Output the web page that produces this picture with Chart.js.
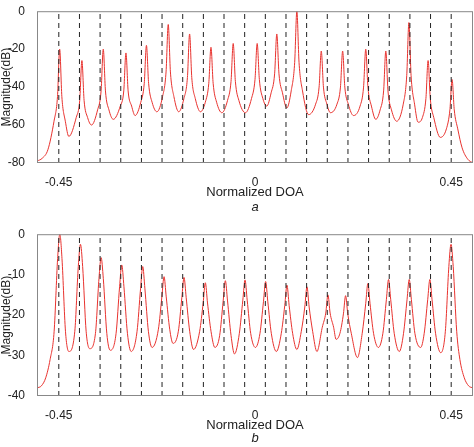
<!DOCTYPE html>
<html>
<head>
<meta charset="utf-8">
<script src="https://cdn.jsdelivr.net/npm/chart.js@4.4.1/dist/chart.umd.min.js"></script>
<style>
  body { margin: 0; background: #fff; width: 474px; height: 447px; position: relative; overflow: hidden; font-family: 'Liberation Sans', Arial, sans-serif; }
  .box { position: absolute; left: 0; width: 474px; }
  .lbl { position: absolute; font-style: italic; font-size: 13px; color: #222; width: 20px; text-align: center; left: 245px; }
</style>
</head>
<body>
<div class="box" style="top:0;height:200px"><canvas id="chartA"></canvas></div>
<div class="lbl" style="top:199px">a</div>
<div class="box" style="top:223px;height:210px"><canvas id="chartB"></canvas></div>
<div class="lbl" style="top:430px">b</div>
<script>
// dashed reference positions (true DOAs)
const trueDoa = [-0.45, -0.4026, -0.3553, -0.3079, -0.2605, -0.2132, -0.1658, -0.1184, -0.0711, -0.0237,
                 0.0237, 0.0711, 0.1184, 0.1658, 0.2132, 0.2605, 0.3079, 0.3553, 0.4026, 0.45];
const xTicks = [-0.45, 0, 0.45];

// --- panel a ---
const peakXA = [-0.448, -0.397, -0.348, -0.296, -0.249, -0.199, -0.150, -0.101, -0.050, 0.005,
                0.050, 0.096, 0.152, 0.201, 0.254, 0.300, 0.353, 0.397, 0.452];
const peakYA = [-20, -26, -20, -22, -18, -7, -12, -19, -17, -17, -12, 0, -21, -21, -20, -21, -6, -26, -36];
const nearA  = [-45, -47, -42, -42, -38, -32, -35, -38, -37, -36, -33, -27, -40, -40, -40, -42, -34, -46, -52];
const farA   = [-58, -56, -52, -50, -48, -45, -46, -48, -47, -46, -43, -42, -49, -49, -50, -52, -49, -56, -62];
const troughXA = [-0.427, -0.375, -0.325, -0.275, -0.225, -0.175, -0.125, -0.076, -0.022, 0.027,
                  0.073, 0.123, 0.173, 0.226, 0.277, 0.325, 0.374, 0.425];
const troughYA = [-66, -60, -57, -55, -53, -53, -53, -53.5, -53.5, -50, -51, -54.5, -53.5, -55, -57, -58, -58.5, -66.5];
const edgeLA = [[-0.5, -79], [-0.488, -77.5], [-0.475, -73]];
const edgeRA = [[0.475, -72], [0.488, -78], [0.5, -80]];

// --- panel b ---
const peakXB = [-0.4477, -0.4003, -0.3529, -0.3056, -0.2575, -0.2086, -0.1628, -0.1139, -0.0680, -0.0229,
                0.0244, 0.0733, 0.1192, 0.1673, 0.2078, 0.2589, 0.3063, 0.3537, 0.4011, 0.4496];
const peakYB = [0, -2.5, -5.8, -7.6, -8, -10.5, -10.7, -12, -11.5, -11.3, -11.7, -12.6, -13, -15, -15.2, -12.2, -11.2, -11.2, -11.2, -2.5];
const nearB  = [-6, -8, -11, -13, -13.5, -15.5, -15.7, -17, -16.5, -16.3, -16.7, -17.6, -18, -19.5, -19.7, -17.2, -16.2, -16.2, -16.2, -8];
const farB   = [-24, -24, -24.5, -24.5, -24, -23.5, -24, -24, -25, -24.5, -24.5, -24.5, -24, -23, -24.5, -24.5, -24.5, -24.5, -24.5, -24];
const troughXB = [-0.427, -0.379, -0.332, -0.284, -0.236, -0.188, -0.141, -0.092, -0.047, 0.001,
                  0.049, 0.096, 0.142, 0.186, 0.235, 0.283, 0.331, 0.380, 0.426];
const troughYB = [-29, -28.3, -28.7, -29, -28, -27, -28.5, -28, -29.6, -28, -29, -28.5, -29, -26, -30.5, -28, -29, -28, -29.3];
const edgeLB = [[-0.5, -38], [-0.49, -37.5], [-0.48, -35.5], [-0.47, -31]];
const edgeRB = [[0.47, -31], [0.48, -35.5], [0.49, -37.5], [0.5, -38]];

function buildCurve(px, py, near, far, tx, ty, edgeL, edgeR) {
  const pts = edgeL.map(p => ({ x: p[0], y: p[1] }));
  for (let i = 0; i < px.length; i++) {
    pts.push({ x: px[i] - 0.013, y: far[i] }, { x: px[i] - 0.005, y: near[i] }, { x: px[i], y: py[i] },
             { x: px[i] + 0.005, y: near[i] }, { x: px[i] + 0.013, y: far[i] });
    if (i < tx.length) pts.push({ x: tx[i], y: ty[i] });
  }
  edgeR.forEach(p => pts.push({ x: p[0], y: p[1] }));
  return pts;
}

const FONT = "'Liberation Sans', Arial, sans-serif";

// plot box + rotated y title
const boxPlugin = {
  id: 'box',
  afterDraw(chart) {
    const a = chart.chartArea, ctx = chart.ctx;
    ctx.save();
    ctx.strokeStyle = '#888';
    ctx.lineWidth = 1;
    ctx.strokeRect(a.left + 0.5, a.top + 0.5, a.right - a.left - 1, a.bottom - a.top - 1);
    ctx.translate(7, (a.top + a.bottom) / 2);
    ctx.rotate(-Math.PI / 2);
    ctx.fillStyle = '#222';
    ctx.font = '12px ' + FONT;
    ctx.textAlign = 'center';
    ctx.textBaseline = 'middle';
    ctx.fillText('Magnitude(dB)', 0, 0);
    ctx.restore();
  }
};

function makeChart(id, curve, ymin, ymax, ystep) {
  const dashed = trueDoa.map(x => ({
    data: [{ x: x, y: ymin }, { x: x, y: ymax }],
    borderColor: '#222', borderWidth: 1, borderDash: [5, 4], pointRadius: 0, order: 0
  }));
  const font = { family: FONT, size: 12 };
  return new Chart(document.getElementById(id), {
    type: 'line',
    data: {
      datasets: [{
        data: curve, borderColor: '#e8332f', borderWidth: 1, pointRadius: 0,
        cubicInterpolationMode: 'monotone', order: 1
      }].concat(dashed)
    },
    options: {
      responsive: true, maintainAspectRatio: false, animation: false, devicePixelRatio: 1,
      layout: { padding: { top: 4, right: 1, left: 0, bottom: 0 } },
      plugins: { legend: { display: false }, tooltip: { enabled: false } },
      scales: {
        x: {
          type: 'linear', min: -0.5, max: 0.5,
          afterBuildTicks: ax => { ax.ticks = xTicks.map(v => ({ value: v })); },
          afterFit: ax => { ax.height = 37; },
          grid: { display: false }, border: { display: false },
          ticks: { font: font, color: '#222', padding: 4, maxRotation: 0, callback: v => String(v) },
          title: { display: true, text: 'Normalized DOA', font: { family: FONT, size: 13 }, color: '#222', padding: 0 }
        },
        y: {
          min: ymin, max: ymax,
          ticks: { stepSize: ystep, font: font, color: '#222', padding: 4, callback: v => String(v) },
          afterFit: ax => { ax.width = 37; },
          grid: { display: false }, border: { display: false }
        }
      }
    },
    plugins: [boxPlugin]
  });
}

makeChart('chartA', buildCurve(peakXA, peakYA, nearA, farA, troughXA, troughYA, edgeLA, edgeRA), -80, 0, 20);
makeChart('chartB', buildCurve(peakXB, peakYB, nearB, farB, troughXB, troughYB, edgeLB, edgeRB), -40, 0, 10);
</script>
</body>
</html>
